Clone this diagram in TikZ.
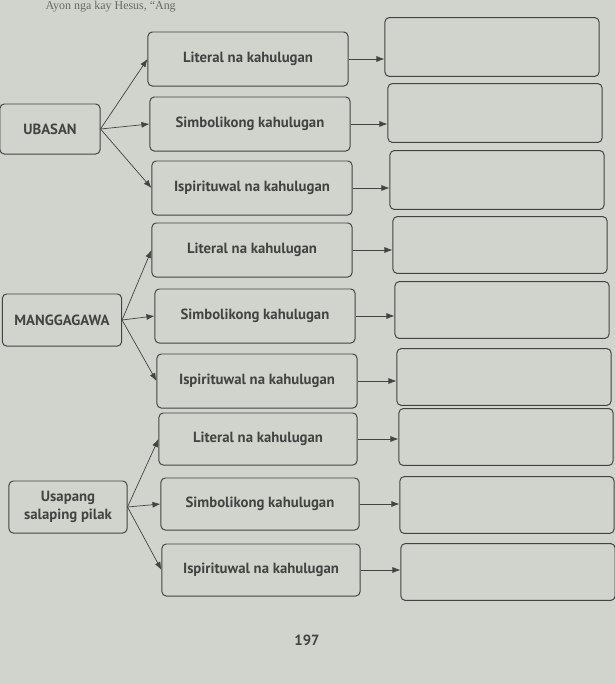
\documentclass[tikz,border=0pt]{standalone}
\usepackage{fontspec}
\setmainfont{PT Sans}
\newfontfamily\pageserif{Liberation Serif}
\usetikzlibrary{arrows.meta, positioning}
\definecolor{paper}{RGB}{208,212,205}
\definecolor{ink}{RGB}{66,68,66}

\begin{document}
\begin{tikzpicture}[x=0.025cm, y=-0.025cm,
    box/.style={rectangle, draw=ink, rounded corners=3pt, line width=0.7pt, text centered, text=ink, font=\fontsize{10.5}{12.5}\selectfont\bfseries},
    topic/.style={box, minimum width=2.95cm, minimum height=1.3cm, align=center},
    mean/.style={box, minimum width=5cm, minimum height=1.35cm},
    answer/.style={box, minimum width=5.35cm, minimum height=1.42cm},
    arrow/.style={-{Latex[length=2mm, width=1.5mm]}, draw=ink, line width=0.5pt}
  ]

    \clip (0,0) rectangle (615,684);
    \fill[paper] (0,0) rectangle (615,684);

    % cut-off line of the page above
    \node[anchor=north west, inner sep=1pt, text=ink!80, font=\pageserif\fontsize{8.5}{10}\selectfont] (head) at (44,0) {Ayon nga kay Hesus, “Ang};

    % Ubasan
    \begin{scope}
      \node[topic, minimum width=2.5cm, minimum height=1.25cm] (ub) at (50,129) {UBASAN};
      \node[mean] (lit1) at (248,59) {Literal na kahulugan};
      \node[mean] (sim1) at (250,124) {Simbolikong kahulugan};
      \node[mean] (isp1) at (252,188) {Ispirituwal na kahulugan};
      \node[answer, minimum height=1.47cm] (anslit1) at (492,47) {};
      \node[answer, minimum height=1.47cm] (anssim1) at (495,113) {};
      \node[answer, minimum height=1.47cm] (ansisp1) at (497,180) {};
    \end{scope}

    % Manggagawa
    \begin{scope}
      \node[topic, minimum width=2.98cm] (mang) at (62,320) {MANGGAGAWA};
      \node[mean] (lit2) at (252,250) {Literal na kahulugan};
      \node[mean] (sim2) at (255,316) {Simbolikong kahulugan};
      \node[mean] (isp2) at (257,381) {Ispirituwal na kahulugan};
      \node[answer] (anslit2) at (500,245) {};
      \node[answer] (anssim2) at (502,310) {};
      \node[answer] (ansisp2) at (504,377) {};
    \end{scope}

    % Usapang salaping pilak
    \begin{scope}
      \node[topic] (usap) at (68,507) {Usapang\\salaping pilak};
      \node[mean, minimum width=4.95cm, minimum height=1.3cm] (lit3) at (258,439) {Literal na kahulugan};
      \node[mean, minimum width=4.95cm, minimum height=1.3cm] (sim3) at (260,504) {Simbolikong kahulugan};
      \node[mean, minimum width=4.95cm, minimum height=1.3cm] (isp3) at (261,570) {Ispirituwal na kahulugan};
      \node[answer] (anslit3) at (506,437) {};
      \node[answer] (anssim3) at (507,505) {};
      \node[answer] (ansisp3) at (508,572) {};
    \end{scope}

    % Arrows
    \foreach \src/\grp in {ub/1, mang/2, usap/3} {
      \foreach \kind in {lit, sim, isp} {
        \draw[arrow] (\src.east) -- (\kind\grp.west);
        \draw[arrow] (\kind\grp.east) -- (\kind\grp.east -| ans\kind\grp.west);
      }
    }

    \node[font=\fontsize{10.5}{12.5}\selectfont\bfseries, text=ink] (pagenum) at (307,640) {197};

  \end{tikzpicture}
\end{document}
